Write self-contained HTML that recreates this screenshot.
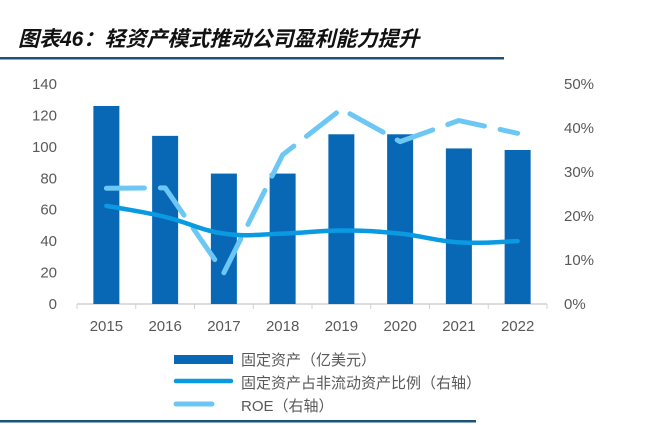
<!DOCTYPE html>
<html><head><meta charset="utf-8"><style>
body{margin:0;background:#fff;}
svg{display:block;font-family:"Liberation Sans","Noto Sans CJK SC",sans-serif;}
</style></head><body>
<svg width="649" height="425" viewBox="0 0 649 425">
<text x="18" y="46" font-size="21" font-weight="bold" font-style="italic" fill="#111" style="font-family:'Liberation Sans','Noto Sans CJK SC',sans-serif">图表46：轻资产模式推动公司盈利能力提升</text>
<rect x="0" y="57" width="504" height="2.5" fill="#1b5277"/>
<g id="axes"></g>
<g id="bars"></g>
<g id="lines"></g>
<g>
<rect x="174" y="355" width="59" height="9" fill="#0868b6"/>
<text x="241" y="365" font-size="15" fill="#595959">固定资产（亿美元）</text>
<line x1="176" y1="381" x2="231" y2="381" stroke="#0a9ae2" stroke-width="4.5" stroke-linecap="round"/>
<text x="241" y="388" font-size="15" fill="#595959">固定资产占非流动资产比例（右轴）</text>
<line x1="176" y1="404" x2="212" y2="404" stroke="#6cc7f4" stroke-width="5" stroke-linecap="round"/>
<text x="241" y="411" font-size="15" fill="#595959">ROE（右轴）</text>
</g>
<rect x="0" y="420" width="476" height="2.5" fill="#1b5277"/>
</svg>
<script>
const categories=["2015","2016","2017","2018","2019","2020","2021","2022"];
const fixedAssets=[126,107,83,83,108,108,99,98];
const ratioPct=[22.3,19.8,16,16,16.7,16,14,14.3];
const roePct=[26.3,26.4,7.1,33.9,44.3,36.9,41.7,38.8];
const leftTicks=[0,20,40,60,80,100,120,140];
const rightTicks=[0,10,20,30,40,50];
const NS="http://www.w3.org/2000/svg";
const L=77,R=547,Y0=304,Ytop=84;
const bw=(R-L)/categories.length;
const xc=i=>L+bw*(i+0.5);
const yL=v=>Y0-(Y0-Ytop)*v/140;
const yR=v=>Y0-(Y0-Ytop)*v/50;
function mk(tag,attrs,parent){const e=document.createElementNS(NS,tag);for(const k in attrs)e.setAttribute(k,attrs[k]);parent.appendChild(e);return e;}
const axes=document.getElementById('axes'),bars=document.getElementById('bars'),lines=document.getElementById('lines');
leftTicks.forEach(t=>{const e=mk('text',{x:57,y:yL(t)+5,'font-size':15,fill:'#595959','text-anchor':'end'},axes);e.textContent=t;

});
rightTicks.forEach(t=>{const e=mk('text',{x:564,y:yR(t)+5,'font-size':15,fill:'#595959'},axes);e.textContent=t+'%';

});
const ax=mk('line',{x1:L,y1:Y0,x2:R,y2:Y0,stroke:'#d0d0d0','stroke-width':1.5},axes);


for(let i=0;i<=categories.length;i++){const t=mk('line',{x1:L+bw*i,y1:Y0,x2:L+bw*i,y2:Y0+5,stroke:'#d0d0d0','stroke-width':1},axes);

}
categories.forEach((c,i)=>{const e=mk('text',{x:xc(i),y:331,'font-size':15,fill:'#595959','text-anchor':'middle'},axes);e.textContent=c;


const b=mk('rect',{x:xc(i)-13,y:yL(fixedAssets[i]),width:26,height:Y0-yL(fixedAssets[i]),fill:'#0868b6'},bars);

});
function pts(arr){return arr.map((v,i)=>[xc(i),yR(v)]);}
function smooth(p){let d='M'+p[0][0]+','+p[0][1];for(let i=0;i<p.length-1;i++){const p0=p[i-1]||p[i],p1=p[i],p2=p[i+1],p3=p[i+2]||p2;const t=0.2;
d+=` C${p1[0]+(p2[0]-p0[0])*t},${p1[1]+(p2[1]-p0[1])*t} ${p2[0]-(p3[0]-p1[0])*t},${p2[1]-(p3[1]-p1[1])*t} ${p2[0]},${p2[1]}`;}return d;}
const roe=mk('path',{d:'M'+pts(roePct).map(p=>p.join(',')).join(' L'),fill:'none',stroke:'#6cc7f4','stroke-width':5,'stroke-dasharray':'38,16','stroke-linecap':'round','stroke-linejoin':'round'},lines);


const ratio=mk('path',{d:smooth(pts(ratioPct)),fill:'none',stroke:'#0a9ae2','stroke-width':4.5,'stroke-linecap':'round'},lines);


</script>
</body></html>
